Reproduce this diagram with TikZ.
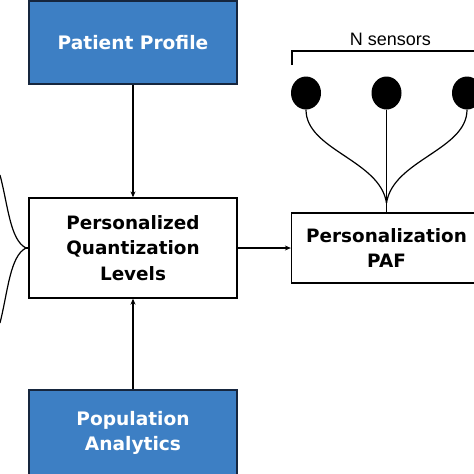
\documentclass[tikz,border=0pt]{standalone}
\usepackage{fontspec}
\setmainfont{DejaVu Sans}
\newfontfamily\labelfont{Liberation Sans}
\usetikzlibrary{arrows.meta,shapes.geometric}
\definecolor{boxblue}{RGB}{61,127,196}
\definecolor{boxedge}{RGB}{22,38,62}
\tikzset{
  bluebox/.style={draw=boxedge, fill=boxblue, line width=1.3pt, text=white,
    font=\bfseries\fontsize{18.6}{25.5}\selectfont, align=center,
    minimum width=208pt, inner sep=0pt},
  whitebox/.style={draw=black, fill=white, line width=1.3pt, text=black,
    font=\bfseries\fontsize{18.4}{25.5}\selectfont, align=center, inner sep=0pt},
  sensor/.style={ellipse, fill=black, minimum width=30pt, minimum height=33pt, inner sep=0pt},
  conn/.style={draw=black, line width=1.2pt},
  arr/.style={conn, -{Stealth[length=6pt,width=5pt]}}
}
\begin{document}
\begin{tikzpicture}[x=1pt,y=-1pt]
\useasboundingbox (0,0) rectangle (474,474);
\clip (0,0) rectangle (474,474);
\fill[white] (0,0) rectangle (474,474);

% boxes
\node[bluebox, minimum height=83pt] (pp) at (133,42.5) {Patient Profile};
\node[whitebox, minimum width=208pt, minimum height=100pt] (pql) at (133,248)
  {Personalized\\Quantization\\Levels};
\node[bluebox, minimum height=86pt] (pa) at (133,433) {Population\\Analytics};
\node[whitebox, minimum width=190pt, minimum height=70pt] (paf) at (386.5,248)
  {Personalization\\PAF};

% arrows
\draw[arr] (pp.south) -- (pql.north);
\draw[arr] (pa.north) -- (pql.south);
\draw[arr] (pql.east) -- (paf.west);

% sensors
\node[sensor] (s1) at (306,93) {};
\node[sensor] (s2) at (386.5,93) {};
\node[sensor] (s3) at (467,93) {};
\coordinate (m) at (386.5,203);
\draw[conn] (s1.south) .. controls (306,150) and (380,160) .. (m);
\draw[conn] (s3.south) .. controls (467,150) and (393,160) .. (m);
\draw[conn] (s2.south) -- (paf.north);
\draw[conn] (m) -- (paf.north);

% bracket and label
\coordinate (b1) at (292,65);
\coordinate (b2) at (292,51);
\coordinate (b3) at (480,51);
\draw[conn] (b1) -- (b2) -- (b3);
\node[font=\labelfont\fontsize{18}{20}\selectfont, anchor=base] (ns) at (390.5,45) {N sensors};

% left converging inputs
\coordinate (lt) at (0,175);
\coordinate (lb) at (0,323);
\coordinate (lm) at (26,248);
\draw[conn] (lt) .. controls (8,205) and (10,240) .. (lm);
\draw[conn] (lb) .. controls (8,291) and (10,256) .. (lm);
\draw[conn] (lm) -- (pql.west);
\end{tikzpicture}
\end{document}
